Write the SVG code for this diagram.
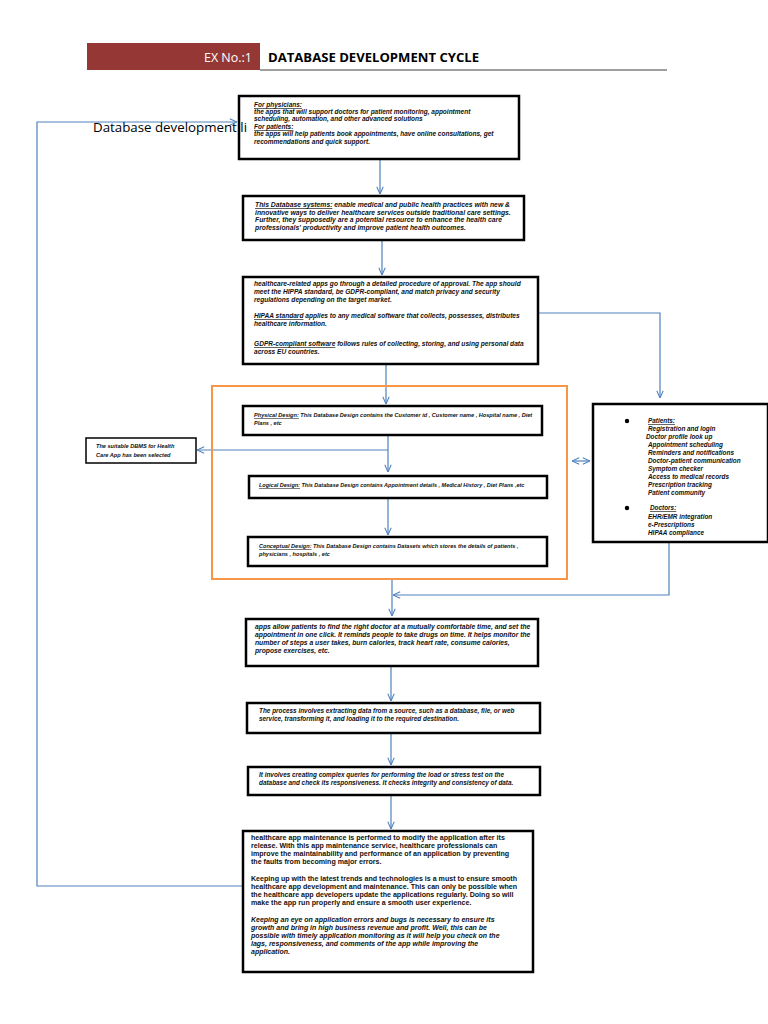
<svg xmlns="http://www.w3.org/2000/svg" width="768" height="1024" viewBox="0 0 768 1024">
<style>
.box{fill:#fff;stroke:#000;stroke-width:2.5}
.t{font-family:"Liberation Sans",Arial,sans-serif;font-weight:bold;font-style:italic;font-size:5.6px;fill:#111}
.n{font-family:"Liberation Sans",Arial,sans-serif;font-weight:bold;font-size:7.1px;fill:#111}
.r{font-family:"Liberation Sans",Arial,sans-serif;font-weight:bold;font-style:italic;font-size:6.4px;fill:#111}
.u{text-decoration:underline}
.conn{stroke:#4F81BD;stroke-width:1.2;fill:none}
</style>
<defs>
<marker id="ah" viewBox="0 0 10 10" refX="10" refY="5" markerWidth="8" markerHeight="8" markerUnits="userSpaceOnUse" orient="auto-start-reverse">
<path d="M1,1 L10,5 L1,9" fill="none" stroke="#4F81BD" stroke-width="1.3"/>
</marker>
</defs>
<rect width="768" height="1024" fill="#fff"/>
<g id="header">
<rect x="87" y="43" width="173" height="27" fill="#953735"/>
<line x1="260" y1="70" x2="667" y2="70" stroke="#7f7f7f" stroke-width="1.5"/>
<text x="252" y="62" text-anchor="end" font-family="'Open Sans','Liberation Sans',sans-serif" font-size="12.5" fill="#fff">EX No.:1</text>
<text x="268" y="62" font-family="'Open Sans','Liberation Sans',sans-serif" font-weight="bold" font-size="12" fill="#000" textLength="211" lengthAdjust="spacingAndGlyphs">DATABASE DEVELOPMENT CYCLE</text>
</g>
<g id="connectors">
<path class="conn" d="M243,886 H37 V122 H237" marker-end="url(#ah)"/>
<line class="conn" x1="380" y1="160" x2="380" y2="194" marker-end="url(#ah)"/>
<line class="conn" x1="382" y1="241" x2="382" y2="275" marker-end="url(#ah)"/>
<path class="conn" d="M538,313 H660 V398" marker-end="url(#ah)"/>
<line class="conn" x1="386" y1="364" x2="386" y2="404" marker-end="url(#ah)"/>
<line class="conn" x1="388" y1="436" x2="388" y2="472" marker-end="url(#ah)"/>
<line class="conn" x1="388" y1="450" x2="197" y2="450" marker-end="url(#ah)"/>
<line class="conn" x1="388" y1="499" x2="388" y2="535" marker-end="url(#ah)"/>
<line class="conn" x1="572" y1="461" x2="590" y2="461" marker-start="url(#ah)" marker-end="url(#ah)"/>
<line class="conn" x1="392" y1="580" x2="392" y2="616" marker-end="url(#ah)"/>
<path class="conn" d="M669,542 V595 H393" marker-end="url(#ah)"/>
<line class="conn" x1="391" y1="667" x2="391" y2="701" marker-end="url(#ah)"/>
<line class="conn" x1="391" y1="734" x2="391" y2="765" marker-end="url(#ah)"/>
<line class="conn" x1="391" y1="796" x2="391" y2="829" marker-end="url(#ah)"/>
</g>
<g id="node-apps">
<rect class="box" x="239" y="96" width="280" height="63" stroke-width="3"/>
<g class="t" style="font-size:6.5px">
<text x="254" y="107"><tspan class="u">For physicians:</tspan></text>
<text x="254" y="114">the apps that will support doctors for patient monitoring, appointment</text>
<text x="254" y="121">scheduling, automation, and other advanced solutions</text>
<text x="254" y="129"><tspan class="u">For patients:</tspan></text>
<text x="254" y="136">the apps will help patients book appointments, have online consultations, get</text>
<text x="254" y="144">recommendations and quick support.</text>
</g>
</g>
<text x="93" y="132" font-family="'Open Sans','Liberation Sans',sans-serif" font-size="13.3" fill="#000">Database development li</text>
<g id="node-systems">
<rect class="box" x="243" y="196" width="281" height="44"/>
<g class="t" style="font-size:6.8px">
<text x="255" y="207"><tspan class="u">This Database systems:</tspan> enable medical and public health practices with new &amp;</text>
<text x="255" y="214.5">innovative ways to deliver healthcare services outside traditional care settings.</text>
<text x="255" y="222">Further, they supposedly are a potential resource to enhance the health care</text>
<text x="255" y="229.5">professionals' productivity and improve patient health outcomes.</text>
</g>
</g>
<g id="node-approval">
<rect class="box" x="243" y="277" width="295" height="87"/>
<g class="t" style="font-size:6.6px">
<text x="254" y="286"> healthcare-related apps go through a detailed procedure of approval. The app should</text>
<text x="254" y="294">meet the HIPPA standard, be GDPR-compliant, and match privacy and security</text>
<text x="254" y="302">regulations depending on the target market.</text>
<text x="254" y="318"><tspan class="u">HIPAA standard</tspan> applies to any medical software that collects, possesses, distributes</text>
<text x="254" y="326">healthcare information.</text>
<text x="254" y="346"><tspan class="u">GDPR-compliant software</tspan> follows rules of collecting, storing, and using personal data</text>
<text x="254" y="354">across EU countries.</text>
</g>
</g>
<g id="group-design">
<rect x="212" y="386" width="355" height="193" fill="none" stroke="#F79646" stroke-width="2"/>
</g>
<g id="node-physical">
<rect class="box" x="243" y="406" width="299" height="29"/>
<text class="t" x="254" y="417"><tspan class="u">Physical Design:</tspan> This Database Design contains the Customer id , Customer name , Hospital name , Diet</text>
<text class="t" x="254" y="425">Plans , etc</text>
</g>
<g id="node-logical">
<rect class="box" x="249" y="476" width="298" height="22"/>
<text class="t" x="259" y="487" style="font-size:5.5px"><tspan class="u">Logical Design:</tspan> This Database Design contains Appointment details , Medical History , Diet Plans ,etc</text>
</g>
<g id="node-conceptual">
<rect class="box" x="248" y="537" width="299" height="29"/>
<text class="t" x="259" y="548"><tspan class="u">Conceptual Design:</tspan> This Database Design contains Datasets  which stores the details of patients ,</text>
<text class="t" x="259" y="556">physicians , hospitals , etc</text>
</g>
<g id="node-dbms">
<rect x="86" y="438" width="110" height="25" fill="#fff" stroke="#000" stroke-width="1.5"/>
<text class="t" x="96" y="448">The suitable DBMS for Health</text>
<text class="t" x="96" y="457">Care App has been selected</text>
</g>
<g id="node-features">
<rect class="box" x="593" y="404" width="175" height="138"/>
<circle cx="627" cy="421" r="2.2" fill="#000"/>
<text class="r" x="648" y="423"><tspan class="u">Patients:</tspan></text>
<text class="r" x="648" y="431">Registration and login</text>
<text class="r" x="646" y="439">Doctor profile look up</text>
<text class="r" x="648" y="447">Appointment scheduling</text>
<text class="r" x="648" y="455">Reminders and notifications</text>
<text class="r" x="648" y="463">Doctor-patient communication</text>
<text class="r" x="648" y="471">Symptom checker</text>
<text class="r" x="648" y="479">Access to medical records</text>
<text class="r" x="648" y="487">Prescription tracking</text>
<text class="r" x="648" y="495">Patient community</text>
<circle cx="627" cy="508" r="2.2" fill="#000"/>
<text class="r" x="650" y="510"><tspan class="u">Doctors:</tspan></text>
<text class="r" x="648" y="519">EHR/EMR integration</text>
<text class="r" x="648" y="527">e-Prescriptions</text>
<text class="r" x="648" y="535">HIPAA compliance</text>
</g>
<g id="node-booking">
<rect class="box" x="246" y="619" width="292" height="47"/>
<g class="t" style="font-size:6.75px">
<text x="255" y="629">apps allow patients to find the right doctor at a mutually comfortable time, and set the</text>
<text x="255" y="637">appointment in one click.  It reminds people to take drugs on time. It helps monitor the</text>
<text x="255" y="645">number of steps a user takes, burn calories, track heart rate, consume calories,</text>
<text x="255" y="653">propose exercises, etc.</text>
</g>
</g>
<g id="node-etl">
<rect class="box" x="247" y="703" width="293" height="30"/>
<g class="t" style="font-size:6.4px">
<text x="259" y="713">The process involves extracting data from a source, such as a database, file, or web</text>
<text x="259" y="721">service, transforming it, and loading it to the required destination.</text>
</g>
</g>
<g id="node-testing">
<rect class="box" x="248" y="767" width="292" height="28"/>
<g class="t" style="font-size:6.4px">
<text x="259" y="777">It involves creating complex queries for performing the load or stress test on the</text>
<text x="259" y="785">database and check its responsiveness. It checks integrity and consistency of data.</text>
</g>
</g>
<g id="node-maintenance">
<rect class="box" x="243" y="831" width="290" height="141"/>
<text class="n" x="251" y="840">healthcare app maintenance is performed to modify the application after its</text>
<text class="n" x="251" y="848">release. With this app maintenance service, healthcare professionals can</text>
<text class="n" x="251" y="856">improve the maintainability and performance of an application by preventing</text>
<text class="n" x="251" y="864">the faults from becoming major errors.</text>
<text class="n" x="251" y="881">Keeping up with the latest trends and technologies is a must to ensure smooth</text>
<text class="n" x="251" y="889">healthcare app development and maintenance. This can only be possible when</text>
<text class="n" x="251" y="897">the healthcare app developers update the applications regularly. Doing so will</text>
<text class="n" x="251" y="905">make the app run properly and ensure a smooth user experience.</text>
<text class="r" x="251" y="922" style="font-size:7px">Keeping an eye on application errors and bugs is necessary to ensure its</text>
<text class="r" x="251" y="930" style="font-size:7px">growth and bring in high business revenue and profit. Well, this can be</text>
<text class="r" x="251" y="938" style="font-size:7px">possible with timely application monitoring as it will help you check on the</text>
<text class="r" x="251" y="946" style="font-size:7px">lags, responsiveness, and comments of the app while improving the</text>
<text class="r" x="251" y="954" style="font-size:7px">application.</text>
</g>
</svg>
